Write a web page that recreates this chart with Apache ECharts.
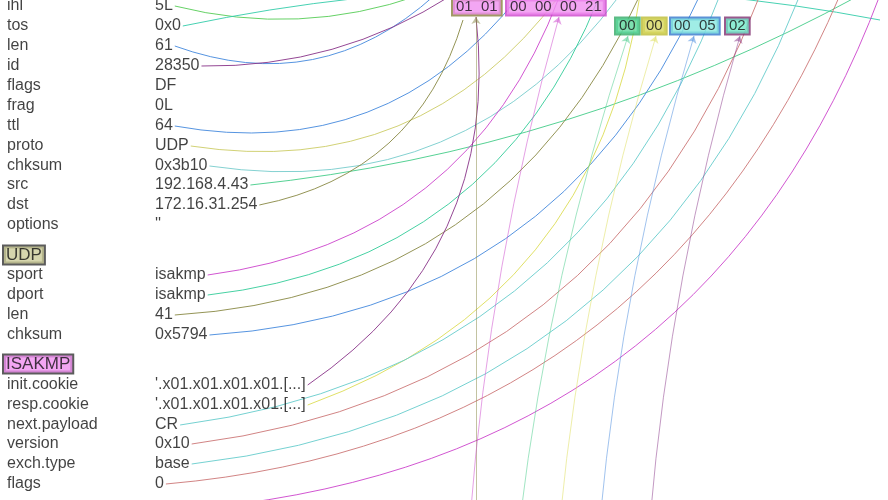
<!DOCTYPE html><html><head><meta charset="utf-8"><script src="https://cdn.jsdelivr.net/npm/echarts@6/dist/echarts.min.js"></script>
<style>html,body{margin:0;background:#fff}#c{width:888px;height:500px}</style></head><body><div id="c"></div><script>
const fieldNames=['ihl','tos','len','id','flags','frag','ttl','proto','chksum','src','dst','options',
'sport','dport','len','chksum','init.cookie','resp.cookie','next.payload','version','exch.type','flags','id'];
const fieldValues=['5L','0x0','61','28350','DF','0L','64','UDP','0x3b10','192.168.4.43','172.16.31.254',"''",
'isakmp','isakmp','41','0x5794',"'.x01.x01.x01.x01.[...]","'.x01.x01.x01.x01.[...]",'CR','0x10','base','0','2060333SL'];
const fieldRows=[6,26,46,66,86,106,126,146,166,185,205,225,275,295,315,335,385,405,425,444,464,484,504];
const lineColors=['#55cc55','#33ccaa','#4488dd','#883388',null,null,'#4488dd','#cccc66','#77cccc','#44cc88','#888844',null,
'#cc44cc','#33cc99','#888844','#4488dd','#883388','#dddd55','#66cccc','#cc7777','#66cccc','#cc7777','#cc44cc'];
const lineTargets=[[420,-5],[880,20],[435,-5],[452,-5],null,null,[520,-5],[560,-5],[620,-5],[860,-5],[463,20],null,
[560,-5],[600,-5],[640,-5],[700,-5],[476,17],[640,-5],[720,-5],[760,-5],[800,-5],[840,-5],[880,-5]];
const lineCurve=[-0.15,0.1,-0.3,-0.15,0,0,-0.3,-0.3,-0.3,-0.1,-0.3,0,-0.3,-0.3,-0.3,-0.3,-0.3,-0.3,-0.3,-0.3,-0.3,-0.3,-0.3];
const headers=[['UDP',255,'#cccc99','#333'],['ISAKMP',364,'#f090f0','#333']];
const hexBoxes=[['01  01',453,7,'#f090f0','#8a8040'],['00  00  00  21',507,7,'#f090f0','#cc44cc'],
['00',616,26,'#5cd89c','#33aa66'],['00',643,26,'#d8d860','#bbbb33'],['00  05',671,26,'#88e8e0','#3377cc'],['02',726,26,'#70e8c8','#803070']];
const upArrows=[[476,17,476,'#888844',0],[559,17,470,'#cc44cc',0.05],[628,36,520,'#44cc88',0.05],[656,36,560,'#dddd55',0.05],[694,36,600,'#4488dd',0.05],[740,36,650,'#883388',0.05]];

const fam='Liberation Sans';
const cv=document.createElement('canvas').getContext('2d');cv.font='16px "'+fam+'"';
const lineData=[];
fieldValues.forEach((v,i)=>{if(!lineTargets[i])return;const x=155+cv.measureText(v).width+2;
lineData.push({coords:[[x,fieldRows[i]],lineTargets[i]],lineStyle:{color:lineColors[i],curveness:lineCurve[i]}});});
const arrowData=upArrows.map(a=>({coords:[[a[2],520],[a[0],a[1]]],lineStyle:{color:a[3],curveness:a[4]}}));
const txt=(x,y,t,extra)=>({value:[x,y],label:Object.assign({show:true,formatter:t,position:'right',distance:0,color:'#111',fontSize:16,fontFamily:fam},extra||{})});
const texts=[];
fieldNames.forEach((n,i)=>{texts.push(txt(7,fieldRows[i],n));texts.push(txt(155,fieldRows[i],fieldValues[i]));});
headers.forEach(h=>texts.push(txt(4,h[1],h[0],{backgroundColor:h[2],borderColor:h[3],borderWidth:2,padding:[0,2,0,2],fontSize:17})));
hexBoxes.forEach(b=>texts.push(txt(b[1],b[2],b[0],{backgroundColor:b[3],borderColor:b[4],borderWidth:2,padding:[1,3,-1,3],fontSize:15})));
const ch=echarts.init(document.getElementById('c'));
ch.setOption({animation:false,grid:{left:0,right:0,top:0,bottom:0},
xAxis:{type:'value',min:0,max:888,show:false},yAxis:{type:'value',min:0,max:500,inverse:true,show:false},
series:[{type:'lines',coordinateSystem:'cartesian2d',z:1,lineStyle:{width:1,opacity:0.9},data:lineData},
{type:'lines',coordinateSystem:'cartesian2d',z:1,symbol:['none','arrow'],symbolSize:7,lineStyle:{width:1},data:arrowData},
{type:'scatter',symbolSize:0,z:5,data:texts}]});
</script></body></html>
